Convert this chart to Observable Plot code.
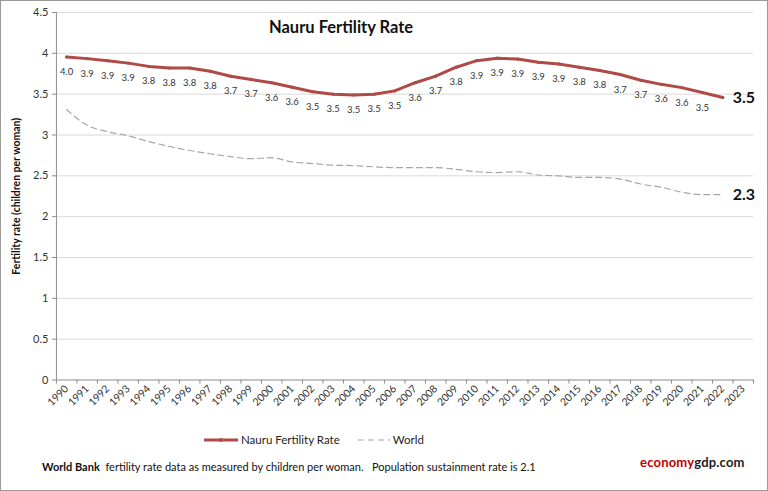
<!DOCTYPE html>
<html><head><meta charset="utf-8">
<script src="https://cdn.jsdelivr.net/npm/d3@7"></script>
<script src="https://cdn.jsdelivr.net/npm/@observablehq/plot@0.6"></script>
<style>
body{margin:0;background:#fff;font-family:Lato,"Open Sans",sans-serif;}
#wrap{position:relative;width:768px;height:491px;box-sizing:border-box;border:1px solid #9a9a9a;overflow:hidden;background:#fff;}
#chart{position:absolute;left:-1px;top:-1px;}
#title{position:absolute;left:268px;top:16px;font:bold 16.5px Lato,sans-serif;color:#111;}
#legend{position:absolute;top:432px;left:203px;font:11.5px Lato,sans-serif;color:#222;display:flex;align-items:center;}
#legend .it{display:flex;align-items:center;margin-right:18px;}
#legend svg{margin-right:3px;}
#foot{position:absolute;top:459px;left:41px;font:11px Lato,sans-serif;color:#111;}
#brand{position:absolute;top:453px;left:639px;font:bold 13px Lato,sans-serif;color:#222;letter-spacing:0.2px;}
</style></head>
<body>
<div id="wrap">
<div id="chart"></div>
<div id="title">Nauru Fertility Rate</div>
<div id="legend">
 <div class="it"><svg width="34" height="10"><line x1="0" y1="5" x2="34" y2="5" stroke="#b04a46" stroke-width="3"/><circle cx="17" cy="5" r="2" fill="#b04a46"/></svg>Nauru Fertility Rate</div>
 <div class="it"><svg width="32" height="10"><line x1="0" y1="5" x2="32" y2="5" stroke="#a6a6a6" stroke-width="1.2" stroke-dasharray="6,4"/></svg>World</div>
</div>
<div id="foot"><b>World Bank</b>&nbsp; fertility rate data as measured by children per woman.&nbsp;&nbsp; Population sustainment rate is 2.1</div>
<div id="brand"><span style="color:#c00000">economy</span>gdp.com</div>
</div>
<script>
const years = d3.range(1990, 2024);
const dataYears = d3.range(1990, 2023);
const nauru = [3.955,3.935,3.91,3.88,3.84,3.82,3.82,3.78,3.72,3.68,3.64,3.585,3.53,3.50,3.49,3.50,3.54,3.64,3.72,3.83,3.91,3.94,3.93,3.89,3.87,3.83,3.79,3.74,3.67,3.62,3.58,3.52,3.46];
const world = [3.31,3.12,3.04,2.99,2.92,2.86,2.81,2.77,2.735,2.71,2.72,2.67,2.65,2.63,2.625,2.61,2.60,2.60,2.60,2.58,2.55,2.54,2.55,2.51,2.50,2.48,2.48,2.46,2.40,2.36,2.30,2.27,2.27];
const yTicks = [0,0.5,1,1.5,2,2.5,3,3.5,4,4.5];
const yLabel = "Fertility rate (children per woman)";

const nd = dataYears.map((y,i)=>({year:y, v:nauru[i]}));
const wd = dataYears.map((y,i)=>({year:y, v:world[i]}));
const lastN = nd[nd.length-1], lastW = wd[wd.length-1];
const bounds = years.map(y=>y-0.5).concat([years[years.length-1]+0.5]);
const red = "#b04a46";

const chart = Plot.plot({
  width: 768, height: 420,
  marginLeft: 56, marginRight: 14, marginTop: 12, marginBottom: 40,
  style:{fontFamily:"Lato, sans-serif", fontSize:"11px", color:"#333", background:"transparent"},
  x:{domain:[1989.5, 2023.5]},
  y:{domain:[0,4.5]},
  marks:[
    Plot.ruleY(yTicks.slice(1), {stroke:"#d9d9d9", strokeWidth:1}),
    Plot.ruleX([1989.5], {stroke:"#8c8c8c"}),
    Plot.ruleY([0], {stroke:"#8c8c8c"}),
    Plot.axisY({ticks:yTicks, tickSize:4, stroke:"#8c8c8c", tickPadding:4, tickFormat:d=>String(d), label:yLabel, labelAnchor:"center", labelArrow:"none", labelOffset:44, fill:"#333"}),
    Plot.axisX({ticks:bounds, tickSize:4, tickFormat:()=>"", stroke:"#8c8c8c", label:null}),
    Plot.axisX({ticks:years, tickSize:0, tickFormat:d=>String(d), tickRotate:-45, tickPadding:7, label:null, fontSize:10.5, fill:"#333"}),
    Plot.line(wd, {x:"year", y:"v", stroke:"#a6a6a6", strokeWidth:1.2, strokeDasharray:"6,4", curve:"monotone-x"}),
    Plot.line(nd, {x:"year", y:"v", stroke:red, strokeWidth:3}),
    Plot.dot(nd, {x:"year", y:"v", r:1.6, fill:red, stroke:"none"}),
    Plot.text(nd.slice(0,-1), {x:"year", y:"v", text:d=>d.v.toFixed(1), dy:15, fontSize:9.5, fill:"#333"}),
    Plot.text([lastN], {x:"year", y:"v", text:d=>d.v.toFixed(1), dx:10, textAnchor:"start", fontSize:16, fontWeight:"bold", fill:"#111"}),
    Plot.text([lastW], {x:"year", y:"v", text:d=>d.v.toFixed(1), dx:10, textAnchor:"start", fontSize:16, fontWeight:"bold", fill:"#111"})
  ]
});
chart.querySelectorAll("g[aria-label='y-axis label'] text").forEach(t=>{t.setAttribute("font-weight","bold");t.setAttribute("font-size","10.5");t.setAttribute("fill","#111");});
document.getElementById("chart").appendChild(chart);
</script>
</body></html>
